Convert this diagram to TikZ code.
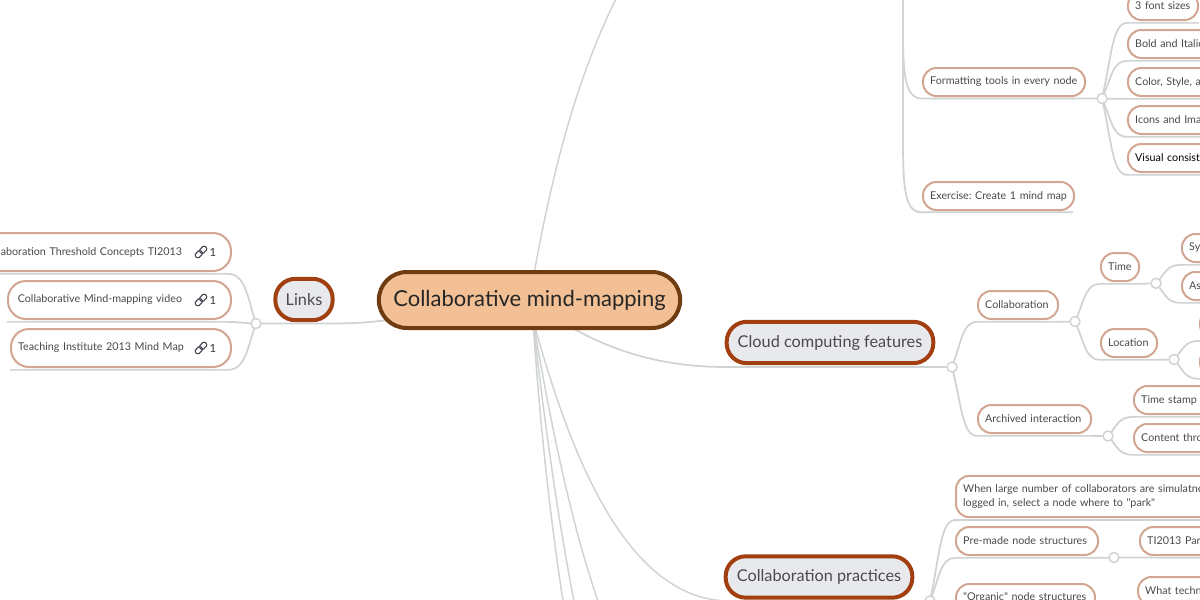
\documentclass[tikz,border=0pt]{standalone}
\usepackage{fontspec}
\setmainfont{Lato}
\newfontfamily\smallf{Lato}[WordSpace=0.7]
\usetikzlibrary{calc,backgrounds}
\definecolor{pillc}{HTML}{D3A692}
\definecolor{majorc}{HTML}{A23F10}
\definecolor{majorf}{HTML}{E8E9EC}
\definecolor{rootc}{HTML}{6E3C10}
\definecolor{rootf}{HTML}{F2C094}
\definecolor{linec}{HTML}{CFD3D2}
\definecolor{textc}{HTML}{4A4A4A}
\definecolor{iconc}{HTML}{3A3A48}
\tikzset{
  x=0.75pt,y=-0.75pt,
  pill/.style={draw=pillc,line width=1.5pt,fill=white,rounded corners=10pt,anchor=west,
    align=left,inner xsep=5.4pt,inner ysep=0pt,minimum height=21pt,text=textc,
    font=\smallf\frenchspacing\fontsize{8.05}{10}\selectfont},
  pill w/.code={\pgfmathsetmacro\pillw{#1*0.75-10.8}\tikzset{text width=\pillw pt}},
  linkpill/.style={pill,rounded corners=13.5pt,minimum height=28.5pt,align=right},
  count/.style={text=textc!70!black,font=\smallf\fontsize{8.5}{10}\selectfont,inner sep=0pt},
  major/.style={draw=majorc,line width=3pt,fill=majorf,rounded corners=15pt,text=textc,
    inner sep=0pt,minimum height=31pt,font=\fontsize{12.2}{14}\selectfont},
  rootn/.style={draw=rootc,line width=3pt,fill=rootf,rounded corners=21pt,text=black!85,
    inner sep=0pt,minimum height=42pt,minimum width=226pt,font=\fontsize{16.5}{18}\selectfont},
  dotn/.style={circle,draw=linec,line width=1.1pt,fill=white,minimum size=7.5pt,inner sep=0pt},
  linkl/.style={draw=linec,line width=1.3pt},
  rootl/.style={draw=linec,line width=1.1pt},
  chainl/.style={draw=iconc,line width=0.75pt,rounded corners=1.7pt},
}
\newcommand{\branch}[2]{%
  \draw[linkl] let \p1=(#1),\p2=([yshift=-1.4pt]#2.south west),\p3=([yshift=-1.4pt]#2.south east) in
    (\p1) .. controls ({\x1+0.38*(\x2-\x1)},{\y1+0.55*(\y2-\y1)}) and ({\x1+0.42*(\x2-\x1)},\y2) .. (\p2) -- (\p3);}
\newcommand{\chainicon}[2]{%
  \begin{scope}[shift={(#1,#2)},rotate=45]
    \draw[chainl] (-7,-2.6) rectangle (0.8,2.6);
    \draw[chainl] (-0.8,-2.6) rectangle (7,2.6);
  \end{scope}}
\begin{document}
\begin{tikzpicture}
\clip (0,0) rectangle (1200,600);
% root and major
\node[rootn] (root) at (529.5,300) {\raisebox{-1pt}{Collaborative mind-mapping}};
\node[major,minimum width=43pt] (links) at (304,299.5) {Links};
\node[major,minimum width=155pt] (cloud) at (830,342.5) {\raisebox{-0.5pt}{Cloud computing features}};
\node[major,minimum width=140pt] (practices) at (819,577) {\raisebox{-0.5pt}{Collaboration practices}};
% links side
\node[linkpill,pill w=290] (lk1) at (-60,252) {\mbox{Collaboration Threshold Concepts TI2013}\hspace*{31.3pt}};
\node[linkpill,pill w=223] (lk2) at (7,300) {\mbox{Collaborative Mind-mapping video}\hspace*{31.3pt}};
\node[linkpill,pill w=220] (lk3) at (10,348) {\mbox{Teaching Institute 2013 Mind Map}\hspace*{31.3pt}};
\chainicon{201}{252}
\chainicon{201}{300}
\chainicon{201}{348}
\node[count] (n1) at (213,252) {1};
\node[count] (n2) at (213,300) {1};
\node[count] (n3) at (213,348) {1};
\node[dotn] (dL) at (256,323.5) {};
% top right
\node[pill,pill w=162] (fmt) at (922,82) {\mbox{Formatting tools in every node}};
\node[pill,pill w=151] (ex) at (922,196) {\mbox{Exercise: Create 1 mind map}};
\node[dotn] (dF) at (1102,98.5) {};
\node[pill,pill w=70] (fs) at (1127,6) {\mbox{3 font sizes}};
\node[pill,pill w=150] (bi) at (1127,44) {\mbox{Bold and Italic}};
\node[pill,pill w=150] (cs) at (1127,82) {\mbox{Color, Style, a}};
\node[pill,pill w=150] (im) at (1127,120) {\mbox{Icons and Ima}};
\node[pill,pill w=150,text=black] (vc) at (1127,158) {\mbox{Visual consist}};
% cloud
\node[dotn] (dC) at (952,367) {};
\node[pill,pill w=80] (col) at (977,305) {\mbox{Collaboration}};
\node[pill,pill w=113] (arc) at (977,419) {\mbox{Archived interaction}};
\node[dotn] (dCol) at (1075,321.5) {};
\node[pill,pill w=38] (tm) at (1100,267) {\mbox{Time}};
\node[pill,pill w=56] (loc) at (1100,343) {\mbox{Location}};
\node[dotn] (dT) at (1156,283.3) {};
\node[dotn] (dLo) at (1174,359.5) {};
\node[pill,pill w=80] (sy) at (1181,248) {\mbox{Sy}};
\node[pill,pill w=80] (as) at (1181,286) {\mbox{As}};
\node[pill,pill w=80] (l1) at (1199,324) {};
\node[pill,pill w=80] (l2) at (1199,362) {};
\node[dotn] (dA) at (1108,436) {};
\node[pill,pill w=90] (ts) at (1133,400) {\mbox{Time stamp}};
\node[pill,pill w=120] (ct) at (1133,438) {\mbox{Content thro}};
% practices
\node[dotn] (dP) at (930,601) {};
\node[pill,pill w=300,minimum height=31pt] (wl) at (955,496.5) {\mbox{When large number of collaborators are simulatne}\\logged in, select a node where to "park"};
\node[pill,pill w=142] (pm) at (955,541) {\mbox{Pre-made node structures}};
\node[dotn] (dPm) at (1114,557.5) {};
\node[pill,pill w=100] (tp) at (1139,541) {\mbox{TI2013 Part}};
\node[pill,pill w=139] (og) at (955,598) {\mbox{"Organic" node structures}};
\node[pill,pill w=100] (wt) at (1137,591) {\mbox{What techn}};
% connectors
\coordinate (rt) at (618,-5);
\coordinate (cL) at (340,323.4);
\coordinate (cC) at (726,367);
\coordinate (cP) at (730,601);
\coordinate (b1) at (563,601);
\coordinate (b2) at (574,601);
\coordinate (b3) at (598,601);
\coordinate (rb) at (533,320);
\coordinate (vt) at (903,-5);
\begin{scope}[on background layer]
\draw[rootl] (root.center) .. controls (552,165) and (580,70) .. (rt);
\draw[linkl] (root.center) .. controls (420,315) and (380,323.4) .. (cL) -- (dL);
\draw[linkl] (root.center) .. controls (590,345) and (650,367) .. (cC) -- (dC);
\draw[rootl] (rb) .. controls (565,435) and (620,601) .. (cP);
\draw[linkl] (cP) -- (dP);
\draw[rootl] (rb) .. controls (540,430) and (552,530) .. (b1);
\draw[rootl] (rb) .. controls (545,430) and (560,530) .. (b2);
\draw[rootl] (rb) .. controls (550,420) and (570,520) .. (b3);
\draw[linkl] let \p1=(dL),\p2=([yshift=-1.4pt]lk1.south east) in (\p1) .. controls (248,300) and (246,\y2) .. (228,\y2) -- (0,\y2);
\draw[linkl] let \p1=(dL),\p2=([yshift=-1.4pt]lk2.south east) in (\p1) .. controls (245,323.5) and (240,\y2) .. (228,\y2) -- ([yshift=-1.4pt]lk2.south west);
\draw[linkl] let \p1=(dL),\p2=([yshift=-1.4pt]lk3.south east) in (\p1) .. controls (248,345) and (246,\y2) .. (228,\y2) -- ([yshift=-1.4pt]lk3.south west);
\draw[linkl] (vt) -- (903,30) .. controls (903,75) and (905,98.5) .. (922,98.5) -- (dF);
\draw[linkl] (vt) -- (903,140) .. controls (903,190) and (905,212.3) .. (922,212.3) -- (1073,212.3);
\branch{dF}{fs}\branch{dF}{bi}\branch{dF}{cs}\branch{dF}{im}\branch{dF}{vc}
\branch{dC}{col}\branch{dC}{arc}
\draw[linkl] ([yshift=-1.4pt]col.south east) -- (dCol);
\draw[linkl] ([yshift=-1.4pt]arc.south east) -- (dA);
\branch{dCol}{tm}\branch{dCol}{loc}
\draw[linkl] ([yshift=-1.4pt]tm.south east) -- (dT);
\draw[linkl] ([yshift=-1.4pt]loc.south east) -- (dLo);
\branch{dT}{sy}\branch{dT}{as}\branch{dLo}{l1}\branch{dLo}{l2}
\branch{dA}{ts}\branch{dA}{ct}
\branch{dP}{wl}\branch{dP}{pm}\branch{dP}{og}
\draw[linkl] ([yshift=-1.4pt]pm.south east) -- (dPm) -- ([yshift=-1.4pt]tp.south east);
\end{scope}
\end{tikzpicture}
\end{document}
